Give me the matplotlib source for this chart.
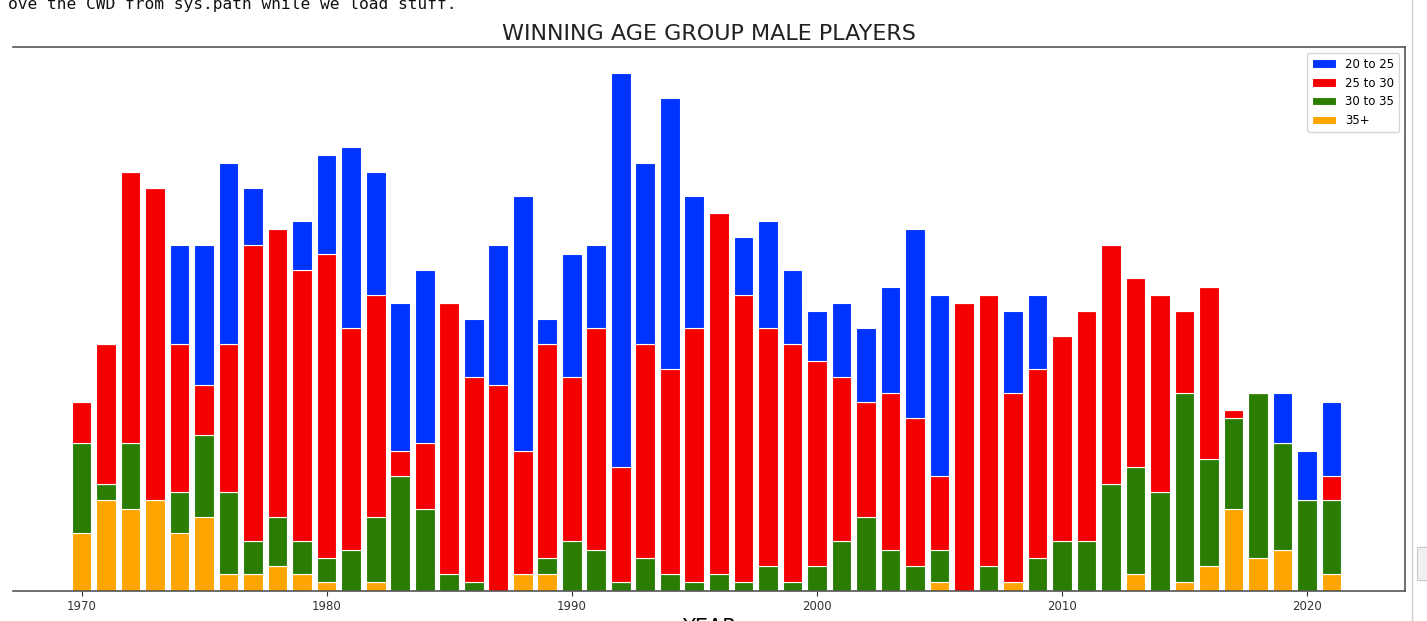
import numpy as np
import matplotlib
matplotlib.use("Agg")
import matplotlib.pyplot as plt
from matplotlib.patches import Rectangle

years = list(range(1970, 2022))

age_20_25 = [0, 0, 0, 0, 12, 17, 22, 7, 0, 6,
             12, 22, 15, 18, 21, 0, 7, 17, 31, 3,
             15, 10, 48, 22, 33, 16, 0, 7, 13, 9,
             6, 9, 9, 13, 23, 22, 0, 0, 10, 9,
             0, 0, 0, 0, 0, 0, 0, 0, 0, 6,
             6, 9]
age_25_30 = [5, 17, 33, 38, 18, 6, 18, 36, 35, 33,
             37, 27, 27, 3, 8, 33, 25, 25, 15, 26,
             20, 27, 14, 26, 25, 31, 44, 35, 29, 29,
             25, 20, 14, 19, 18, 9, 35, 33, 23, 23,
             25, 28, 29, 23, 24, 10, 21, 1, 0, 0,
             0, 3]
age_30_35 = [11, 2, 8, 0, 5, 10, 10, 4, 6, 4,
             3, 5, 8, 14, 10, 2, 1, 0, 0, 2,
             6, 5, 1, 4, 2, 1, 2, 1, 3, 1,
             3, 6, 9, 5, 3, 4, 0, 3, 0, 4,
             6, 6, 13, 13, 12, 23, 13, 11, 20, 13,
             11, 9]
age_35_plus = [7, 11, 10, 11, 7, 9, 2, 2, 3, 2,
               1, 0, 1, 0, 0, 0, 0, 0, 2, 2,
               0, 0, 0, 0, 0, 0, 0, 0, 0, 0,
               0, 0, 0, 0, 0, 1, 0, 0, 1, 0,
               0, 0, 0, 2, 0, 1, 3, 10, 4, 5,
               0, 2]

labels = ["20 to 25", "25 to 30", "30 to 35", "35+"]
colors = {"20 to 25": "#0033ff", "25 to 30": "#f50000",
          "30 to 35": "#2a7d00", "35+": "#ffa500"}

W, H = 1427, 621
fig = plt.figure(figsize=(W / 100, H / 100), dpi=100)
ax = fig.add_axes([13 / W, (H - 590.7) / H, (1405 - 13) / W, (590.7 - 47) / H])

series = {"35+": age_35_plus, "30 to 35": age_30_35,
          "25 to 30": age_25_30, "20 to 25": age_20_25}
bottom = np.zeros(len(years))
handles = {}
for name in ["35+", "30 to 35", "25 to 30", "20 to 25"]:
    vals = np.array(series[name], dtype=float)
    h = ax.bar(years, vals, width=0.8, bottom=bottom, color=colors[name],
               edgecolor="white", linewidth=0.8, label=name)
    handles[name] = h
    bottom += vals

ax.set_xlim(1967.2, 2024.0)
ax.set_title("WINNING AGE GROUP MALE PLAYERS", fontsize=16, color="#222222", pad=5)
ax.set_xlabel("YEAR", fontsize=15, labelpad=3)
ax.set_yticks([])
ax.set_xticks([1970, 1980, 1990, 2000, 2010, 2020])
ax.tick_params(axis="x", labelsize=8.5, colors="#333333", length=3.5)
ax.spines["left"].set_visible(False)
for s in ["top", "bottom", "right"]:
    ax.spines[s].set_color("#555555")
    ax.spines[s].set_linewidth(1.2)

ax.legend([handles[n] for n in labels], labels, loc="upper right",
          fontsize=8.5, frameon=True, borderaxespad=0.5)

# notebook chrome around the chart
fig.text(8 / W, 1 - 9 / H, "ove the CWD from sys.path while we load stuff.",
         family="DejaVu Sans Mono", fontsize=11.7, color="#111111",
         va="baseline", ha="left")
fig.add_artist(plt.Line2D([1412 / W, 1412 / W], [0, 1], color="#d0d0d0",
                          linewidth=1, transform=fig.transFigure))
fig.add_artist(Rectangle((1417 / W, (H - 580) / H), 10 / W, 33 / H,
                         facecolor="#f0f0f0", edgecolor="#c8c8c8",
                         linewidth=0.8, transform=fig.transFigure))

fig.savefig("out.png", dpi=100)
